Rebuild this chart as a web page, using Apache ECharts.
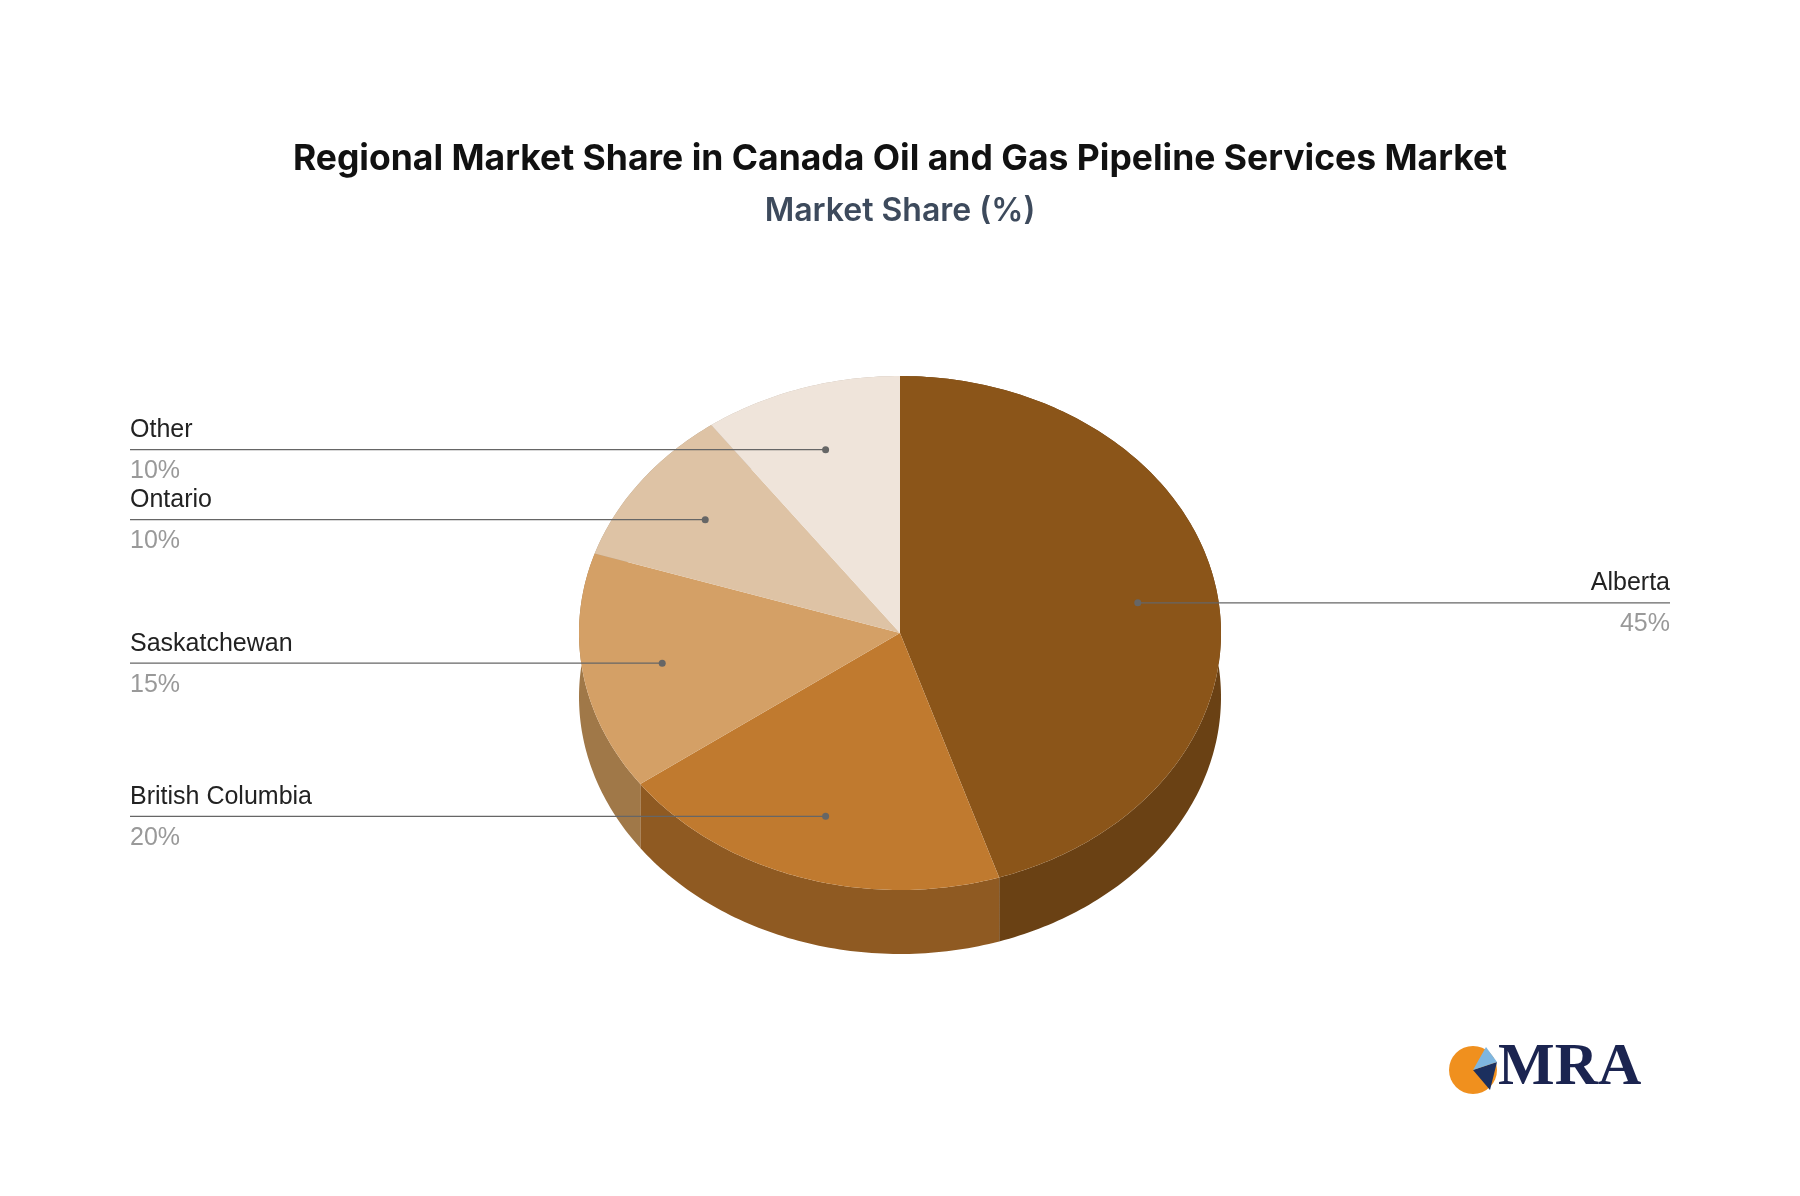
<!DOCTYPE html>
<html><head><meta charset="utf-8">
<script src="https://cdn.jsdelivr.net/npm/echarts@6/dist/echarts.min.js"></script>
<style>html,body{margin:0;padding:0;background:#fff}#c{width:1800px;height:1196px}</style>
</head><body><div id="c"></div>
<script>
const categories = ['Alberta','British Columbia','Saskatchewan','Ontario','Other'];
const values = [45,20,15,10,10];
const topColors = ['#8B5519','#C07A2F','#D4A066','#DEC3A5','#EFE4DA'];
const sideColors = ['#6A4114','#8F5A22','#A07848','#B09A80','#C0B5AA'];

const chart = echarts.init(document.getElementById('c'));
const cx=900, cy=633, rx=321, ry=257, depth=64;
const total = values.reduce((a,b)=>a+b,0);
function pt(a,f,dy){return [cx+rx*f*Math.sin(a), cy-ry*f*Math.cos(a)+(dy||0)];}

function renderItem(params, api){
  const walls=[], tops=[], labels=[];
  let acc=0;
  values.forEach((v,i)=>{
    const a0=acc/total*2*Math.PI; acc+=v; const a1=acc/total*2*Math.PI;
    const n=Math.max(8,Math.round((a1-a0)*60));
    const arc=[]; for(let k=0;k<=n;k++) arc.push(a0+(a1-a0)*k/n);
    const wpts=arc.map(a=>pt(a,1)).concat(arc.slice().reverse().map(a=>pt(a,1,depth)));
    walls.push({type:'polygon',shape:{points:wpts},style:{fill:sideColors[i]}});
    const tpts=[[cx,cy]].concat(arc.map(a=>pt(a,1)));
    tops.push({type:'polygon',shape:{points:tpts},style:{fill:topColors[i]}});
    const am=(a0+a1)/2; const d=pt(am,0.75);
    const right = Math.sin(am)>0;
    const lx = right?1670:130;
    labels.push({type:'line',shape:{x1:lx,y1:d[1],x2:d[0],y2:d[1]},style:{stroke:'#666',lineWidth:1.2}});
    labels.push({type:'circle',shape:{cx:d[0],cy:d[1],r:3.5},style:{fill:'#666'}});
    labels.push({type:'text',x:lx,y:d[1]-7,style:{text:categories[i],fill:'#222',font:'25px "Liberation Sans", Arial',textAlign:right?'right':'left',textVerticalAlign:'bottom'}});
    labels.push({type:'text',x:lx,y:d[1]+9,style:{text:v+'%',fill:'#999',font:'25px "Liberation Sans", Arial',textAlign:right?'right':'left',textVerticalAlign:'top'}});
  });
  return {type:'group',children:walls.concat(tops,labels)};
}

chart.setOption({
  backgroundColor:'#fff',
  title:{text:'Regional Market Share in Canada Oil and Gas Pipeline Services Market',subtext:'Market Share (%)',left:'center',top:136,itemGap:18,
    textStyle:{fontFamily:'Inter, Roboto',fontSize:35.5,fontWeight:'bold',color:'#111'},
    subtextStyle:{fontFamily:'Inter, Roboto',fontSize:32,fontWeight:'600',color:'#3d4a5c'}},
  series:[{type:'custom',renderItem:renderItem,data:[0],coordinateSystem:'none',silent:true,animation:false}],
  graphic:[
    {type:'circle',shape:{cx:1473,cy:1070,r:24},style:{fill:'#F0901E'}},
    {type:'polygon',shape:{points:[[1473,1070],[1497,1062],[1490,1090]]},style:{fill:'#1B2F5E'}},
    {type:'polygon',shape:{points:[[1473,1070],[1486,1047],[1497,1062]]},style:{fill:'#7EB6E0'}},
    {type:'text',left:1498,top:1038,style:{text:'MRA',fill:'#1B2450',font:'bold 60px "Liberation Serif", serif'}}
  ]
});
</script></body></html>
